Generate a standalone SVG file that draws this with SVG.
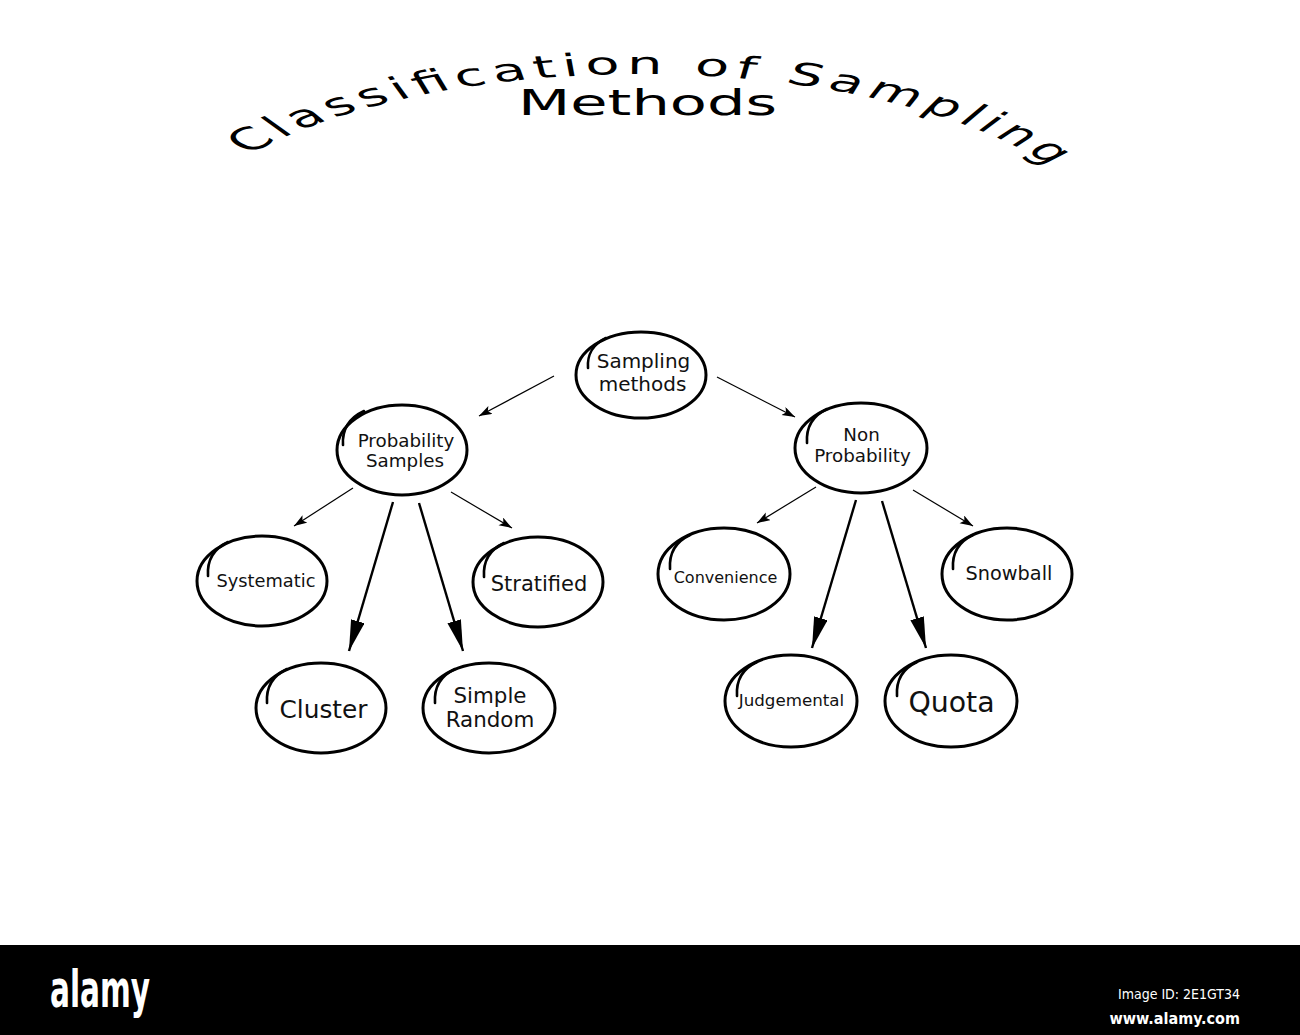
<svg xmlns="http://www.w3.org/2000/svg" xmlns:xlink="http://www.w3.org/1999/xlink" width="1300" height="1035" viewBox="0 0 1300 1035">
<style>
.bg{fill:#ffffff}
.oval{fill:none;stroke:#000;stroke-width:3}
.mark{fill:none;stroke:#000;stroke-width:2.6;stroke-linecap:round}
.lbl{font-family:"DejaVu Sans",sans-serif;fill:#111;text-anchor:middle}
.title{font-family:"DejaVu Sans",sans-serif;fill:#000}
.thin{stroke:#000;stroke-width:1.2;fill:none}
.thick{stroke:#000;stroke-width:2.4;fill:none}
.ban{font-family:"DejaVu Sans Condensed","DejaVu Sans",sans-serif;fill:#fff}
</style>
<defs>
<marker id="ah" markerUnits="userSpaceOnUse" markerWidth="14" markerHeight="10" refX="13" refY="4.5" orient="auto">
<path d="M0,0 L13,4.5 L0,9 L3,4.5 z" fill="#000"/>
</marker>
<marker id="ahb" markerUnits="userSpaceOnUse" markerWidth="32" markerHeight="16" refX="31" refY="7" orient="auto">
<path d="M0,0 L31,7 L0,14 z" fill="#000"/>
</marker>
<path id="arc" d="M 373,267 A 267 193 0 0 1 907,267" fill="none"/>
</defs>
<rect class="bg" x="0" y="0" width="1300" height="1035"/>

<g id="title">
<text class="title" font-size="31" transform="matrix(1.8,0,0,1,-512,0)"><textPath href="#arc" xlink:href="#arc" startOffset="51%" text-anchor="middle" textLength="490" lengthAdjust="spacing">Classification of Sampling</textPath></text>
<text class="title" x="647.5" y="115" font-size="36" text-anchor="middle" textLength="259" lengthAdjust="spacingAndGlyphs">Methods</text>
</g>

<g id="connectors">
<line class="thin" x1="554" y1="376" x2="479" y2="416" marker-end="url(#ah)"/>
<line class="thin" x1="717" y1="377" x2="795" y2="417" marker-end="url(#ah)"/>
<line class="thin" x1="353" y1="488" x2="294" y2="526" marker-end="url(#ah)"/>
<line class="thin" x1="451" y1="492" x2="512" y2="528" marker-end="url(#ah)"/>
<line class="thin" x1="816" y1="487" x2="757" y2="523" marker-end="url(#ah)"/>
<line class="thin" x1="913" y1="490" x2="973" y2="526" marker-end="url(#ah)"/>
<line class="thick" x1="393" y1="502" x2="349" y2="651" marker-end="url(#ahb)"/>
<line class="thick" x1="419" y1="503" x2="463" y2="651" marker-end="url(#ahb)"/>
<line class="thick" x1="856" y1="500" x2="812" y2="648" marker-end="url(#ahb)"/>
<line class="thick" x1="882" y1="501" x2="926" y2="648" marker-end="url(#ahb)"/>
</g>

<g id="n-sampling">
<ellipse class="oval" cx="641" cy="375" rx="65" ry="43"/>
<path class="mark" d="M588,368 C587,355 593,344 606,338"/>
<text class="lbl" x="643.5" y="368" font-size="20">Sampling</text>
<text class="lbl" x="642.5" y="391" font-size="20">methods</text>
</g>
<g id="n-probability">
<ellipse class="oval" cx="402" cy="450" rx="65" ry="45"/>
<path class="mark" d="M343,445 C342,430 349,418 364,411"/>
<text class="lbl" x="406" y="447" font-size="18.3">Probability</text>
<text class="lbl" x="405" y="467" font-size="18.3">Samples</text>
</g>
<g id="n-nonprobability">
<ellipse class="oval" cx="861" cy="448" rx="66" ry="45"/>
<path class="mark" d="M807,443 C806,428 812,416 827,409"/>
<text class="lbl" x="861.5" y="441" font-size="18.3">Non</text>
<text class="lbl" x="862.5" y="462" font-size="18.3">Probability</text>
</g>
<g id="n-systematic">
<ellipse class="oval" cx="262" cy="581" rx="65" ry="45"/>
<path class="mark" d="M208,576 C207,561 213,549 228,542"/>
<text class="lbl" x="266" y="587" font-size="17.8">Systematic</text>
</g>
<g id="n-stratified">
<ellipse class="oval" cx="538" cy="582" rx="65" ry="45"/>
<path class="mark" d="M484,577 C483,562 489,550 504,543"/>
<text class="lbl" x="539" y="591" font-size="21">Stratified</text>
</g>
<g id="n-convenience">
<ellipse class="oval" cx="724" cy="574" rx="66" ry="46"/>
<path class="mark" d="M670,569 C669,554 675,542 690,535"/>
<text class="lbl" x="725.5" y="583" font-size="16">Convenience</text>
</g>
<g id="n-snowball">
<ellipse class="oval" cx="1007" cy="574" rx="65" ry="46"/>
<path class="mark" d="M953,569 C952,554 958,542 973,535"/>
<text class="lbl" x="1009" y="580" font-size="19.3">Snowball</text>
</g>
<g id="n-cluster">
<ellipse class="oval" cx="321" cy="708" rx="65" ry="45"/>
<path class="mark" d="M267,703 C266,688 272,676 287,669"/>
<text class="lbl" x="323.5" y="718" font-size="24.8">Cluster</text>
</g>
<g id="n-simplerandom">
<ellipse class="oval" cx="489" cy="708" rx="66" ry="45"/>
<path class="mark" d="M435,703 C434,688 440,676 455,669"/>
<text class="lbl" x="490" y="703" font-size="21.4">Simple</text>
<text class="lbl" x="490" y="727" font-size="21.4">Random</text>
</g>
<g id="n-judgemental">
<ellipse class="oval" cx="791" cy="701" rx="66" ry="46"/>
<path class="mark" d="M737,696 C736,681 742,669 757,662"/>
<text class="lbl" x="791.5" y="706" font-size="16.7">Judgemental</text>
</g>
<g id="n-quota">
<ellipse class="oval" cx="951" cy="701" rx="66" ry="46"/>
<path class="mark" d="M897,696 C896,681 902,669 917,662"/>
<text class="lbl" x="951.5" y="712" font-size="28.4">Quota</text>
</g>

<g id="banner">
<rect x="0" y="945" width="1300" height="90" fill="#000"/>
<text class="ban" x="50" y="1007" font-size="52" font-weight="bold" textLength="100" lengthAdjust="spacingAndGlyphs">alamy</text>
<text class="ban" x="1240" y="999" font-size="14" text-anchor="end">Image ID: 2E1GT34</text>
<text class="ban" x="1240" y="1024" font-size="16" font-weight="bold" text-anchor="end">www.alamy.com</text>
</g>
</svg>
